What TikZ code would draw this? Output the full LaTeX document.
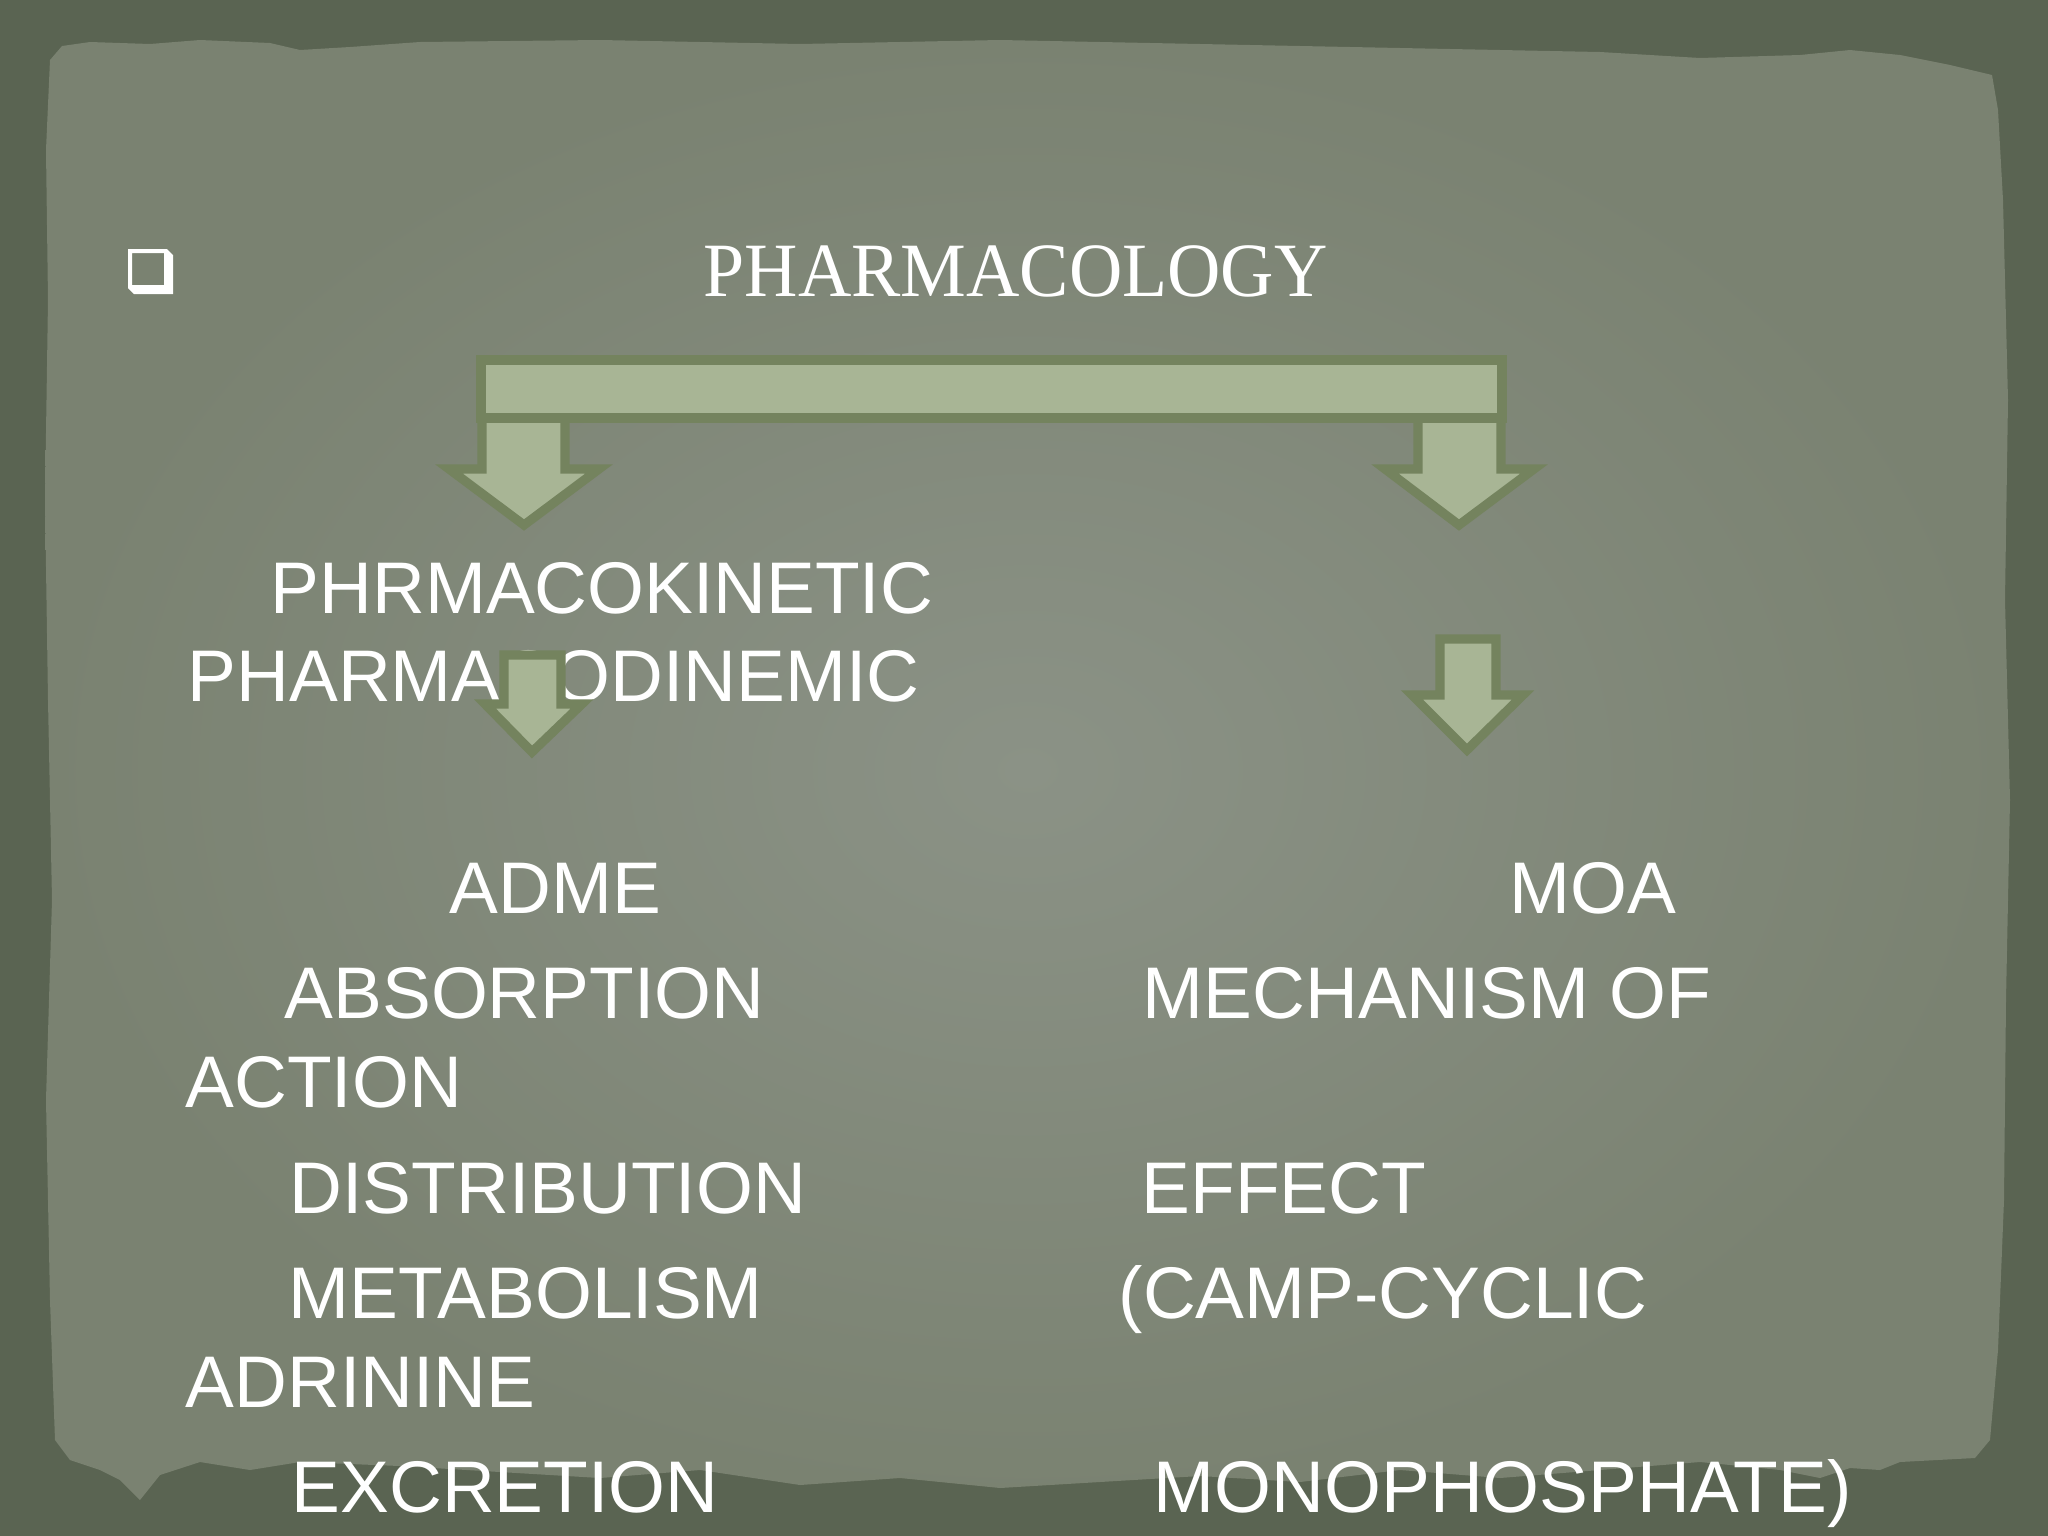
\documentclass[tikz,border=0pt]{standalone}
\usepackage{fontspec}
\setmainfont{Liberation Sans}
\newfontfamily\titlefont{Liberation Serif}
\definecolor{bgdark}{RGB}{90,100,82}
\definecolor{paperC}{RGB}{139,146,134}
\definecolor{paperE}{RGB}{122,130,113}
\definecolor{arrowfill}{RGB}{168,181,149}
\definecolor{arrowline}{RGB}{116,131,94}
\tikzset{
  txt/.style={anchor=base west, inner sep=0pt, text=white, font=\fontsize{20.8pt}{25pt}\selectfont},
  ttl/.style={anchor=base west, inner sep=0pt, text=white, font=\titlefont\fontsize{20.8pt}{25pt}\selectfont},
  blockarrow/.style={fill=arrowfill, draw=arrowline, line width=2.6pt, line join=miter}
}
\begin{document}
\begin{tikzpicture}[x=0.01cm,y=-0.01cm]
\useasboundingbox (0,0) rectangle (2048,1536);
\fill[bgdark] (0,0) rectangle (2048,1536);
% torn paper
\shade[inner color=paperC, outer color=paperE]
 (50,60) -- (62,46) -- (90,42) -- (150,44) -- (200,40) -- (270,43) -- (300,50) -- (350,47) -- (420,42) -- (600,40) -- (800,44) -- (1000,40) -- (1200,44) -- (1400,48) -- (1600,52) -- (1700,58) -- (1800,55) -- (1850,50) -- (1900,55) -- (1950,65) -- (1992,75)
 -- (1998,110) -- (2003,200) -- (2008,400) -- (2005,600) -- (2010,800) -- (2006,1000) -- (2004,1200) -- (1998,1350) -- (1990,1440) -- (1975,1458)
 -- (1900,1462) -- (1880,1470) -- (1850,1468) -- (1820,1478) -- (1780,1470) -- (1700,1462) -- (1600,1470) -- (1500,1478) -- (1400,1470) -- (1300,1482) -- (1200,1476) -- (1100,1482) -- (1000,1488) -- (900,1478) -- (800,1485) -- (700,1470) -- (600,1478) -- (500,1472) -- (400,1466) -- (300,1462) -- (250,1470) -- (200,1462) -- (160,1475) -- (140,1500) -- (120,1480) -- (100,1470) -- (70,1460) -- (55,1440)
 -- (50,1300) -- (46,1100) -- (52,900) -- (48,700) -- (45,500) -- (48,300) -- (46,150) -- cycle;
% bullet
\fill[white, even odd rule] (128,249) -- (167,249) -- (173,255) -- (173,294) -- (134,294) -- (128,288) -- cycle
  (132,253) rectangle (164,285);
% title
\node[ttl] (title) at (703,296) {\scalebox{1.01}[1.05]{PHARMACOLOGY}};
% big bracket arrows
\draw[blockarrow] (482,418) -- (482,469) -- (449,469) -- (524,525) -- (599,469) -- (565,469) -- (565,418) -- cycle;
\draw[blockarrow] (1418,418) -- (1418,469) -- (1385,469) -- (1459,525) -- (1534,469) -- (1501,469) -- (1501,418) -- cycle;
\draw[blockarrow] (481,360) rectangle (1502,418);
% texts
\node[txt] (pk) at (270,613) {PHRMACOKINETIC};
\node[txt] (pd) at (187,701) {PHARMACODINEMIC};
% small arrows
\draw[blockarrow] (504,655) -- (504,704) -- (485,704) -- (532,752) -- (582,704) -- (561,704) -- (561,655) -- cycle;
\draw[blockarrow] (1440,639) -- (1440,695) -- (1412,695) -- (1467,750) -- (1523,695) -- (1496,695) -- (1496,639) -- cycle;
% lower texts
\node[txt] (adme) at (449,913) {ADME};
\node[txt] (moa) at (1509,913) {MOA};
\node[txt] (abs) at (284,1018) {ABSORPTION};
\node[txt] (mech) at (1142,1018) {MECHANISM OF};
\node[txt] (act) at (185,1107) {ACTION};
\node[txt] (dist) at (289,1213) {DISTRIBUTION};
\node[txt] (eff) at (1141,1213) {EFFECT};
\node[txt] (meta) at (288,1318) {METABOLISM};
\node[txt] (camp) at (1118,1318) {(CAMP-CYCLIC};
\node[txt] (adr) at (185,1407) {ADRININE};
\node[txt] (exc) at (291,1512) {EXCRETION};
\node[txt] (mono) at (1153,1512) {MONOPHOSPHATE)};
\end{tikzpicture}
\end{document}
